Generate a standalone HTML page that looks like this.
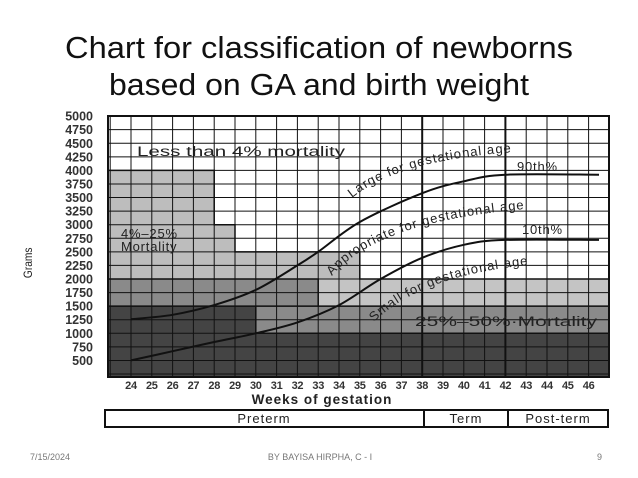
<!DOCTYPE html>
<html><head><meta charset="utf-8"><style>
body{margin:0;background:#fff;width:638px;height:478px;overflow:hidden;font-family:"Liberation Sans",sans-serif}
svg{display:block}
</style></head><body>
<svg id="c" width="638" height="478">
<defs>
<path id="lgaPath" d="M352 198 Q410 150 580 150"/>
<path id="agaPath" d="M332 276 Q385 212 580 206"/>
<path id="sgaPath" d="M374 322 Q432 265 580 262"/>
</defs>
<text x="319" y="58" text-anchor="middle" font-size="31" fill="#111" textLength="508" lengthAdjust="spacingAndGlyphs">Chart for classification of newborns</text>
<text x="319" y="95" text-anchor="middle" font-size="31" fill="#111" textLength="420" lengthAdjust="spacingAndGlyphs">based on GA and birth weight</text>
<g id="plot"></g>
<text x="30" y="460" font-size="9" fill="#777">7/15/2024</text>
<text x="320" y="460" text-anchor="middle" font-size="9" fill="#777">BY BAYISA HIRPHA, C - I</text>
<text x="597" y="460" font-size="9" fill="#777">9</text>
</svg>
<script>
const weeks=[24,25,26,27,28,29,30,31,32,33,34,35,36,37,38,39,40,41,42,43,44,45,46];
const gramTicks=[500,750,1000,1250,1500,1750,2000,2250,2500,2750,3000,3250,3500,3750,4000,4250,4500,4750,5000];
const p90Weeks=[24,26,28,30,32,33,35,38,40,42,46.5];
const p90Grams=[1260,1340,1520,1800,2250,2500,3050,3580,3800,3920,3920];
const p10Weeks=[24,26,28,30,32,34,36,38,40,42,46.5];
const p10Grams=[500,670,840,1000,1200,1520,2000,2390,2630,2720,2720];
const zoneW0=[22.9,28,29,35,33,22.9,30];
const zoneW1=[28,29,35,47,47,33,47];
const zoneG0=[2000,2000,2000,1500,1500,1500,1000];
const zoneG1=[4000,3000,2500,2000,2000,2000,1500];
const zoneFill=["#bdbdbd","#bdbdbd","#bdbdbd","#c4c4c4","#c4c4c4","#8a8a8a","#8a8a8a"];
const NS="http://www.w3.org/2000/svg";
const X=w=>131+(w-24)*20.8;
const Y=g=>279-(g-2000)*0.0543;
const L=108,R=609,T=116,B=377;
const g=document.getElementById('plot');
function mk(t,a,p){const e=document.createElementNS(NS,t);for(const k in a)e.setAttribute(k,a[k]);(p||g).appendChild(e);return e;}
let base=mk('rect',{x:L,y:Y(1500),width:R-L,height:B-Y(1500),fill:'#444'});


for(let i=0;i<zoneW0.length;i++){
  const x0=Math.max(L,X(zoneW0[i])),x1=Math.min(R,X(zoneW1[i]));
  const y0=Y(zoneG1[i]),y1=Math.min(B,Y(zoneG0[i]));
  const r=mk('rect',{x:x0,y:y0,width:x1-x0,height:y1-y0,fill:zoneFill[i]});
  
  
}
for(let w=23;w<=47;w++){const x=X(w);if(x<L||x>R)continue;
  const l=mk('line',{x1:x,x2:x,y1:T,y2:B,stroke:'#111','stroke-width':(w==38||w==42)?2:1});
  
  }
for(let gr=250;gr<=5000;gr+=250){const y=Y(gr);if(y>B)continue;
  const l=mk('line',{x1:L,x2:R,y1:y,y2:y,stroke:'#111','stroke-width':1});
  
  }
const bp=mk('path',{d:`M${L} ${Y(4000)}H${X(28)}V${Y(3000)}H${X(29)}V${Y(2500)}H${X(35)}V${Y(2000)}H${R}M${L} ${Y(2000)}H${X(33)}V${Y(1500)}M${L} ${Y(1500)}H${R}M${X(30)} ${Y(1500)}V${Y(1000)}H${R}`,fill:'none',stroke:'#111','stroke-width':1.5});


const fr=mk('rect',{x:L,y:T,width:R-L,height:B-T,fill:'none',stroke:'#111','stroke-width':2});


function curve(ws,gs,name){
  const pts=ws.map((w,i)=>[X(w),Y(gs[i])]);
  let d='M'+pts[0][0].toFixed(1)+' '+pts[0][1].toFixed(1);
  for(let i=0;i<pts.length-1;i++){
    const p0=pts[Math.max(0,i-1)],p1=pts[i],p2=pts[i+1],p3=pts[Math.min(pts.length-1,i+2)];
    const c1=[p1[0]+(p2[0]-p0[0])/6,p1[1]+(p2[1]-p0[1])/6],c2=[p2[0]-(p3[0]-p1[0])/6,p2[1]-(p3[1]-p1[1])/6];
    d+=`C${c1[0].toFixed(1)} ${c1[1].toFixed(1)} ${c2[0].toFixed(1)} ${c2[1].toFixed(1)} ${p2[0].toFixed(1)} ${p2[1].toFixed(1)}`;
  }
  const p=mk('path',{d:d,fill:'none',stroke:'#111','stroke-width':2});
  
  }
curve(p90Weeks,p90Grams,'curve-90th-percentile');
curve(p10Weeks,p10Grams,'curve-10th-percentile');
gramTicks.forEach(v=>{const t=mk('text',{x:93,y:Y(v)+4.5,'text-anchor':'end','font-size':12.5,'font-weight':'bold',fill:'#333'});t.textContent=v;
  
  });
weeks.forEach(v=>{const t=mk('text',{x:X(v),y:389,'text-anchor':'middle','font-size':11,'font-weight':'bold',fill:'#333','letter-spacing':'-0.3'});t.textContent=v;
  
  });
function txt(s,x,y,fs,name,extra){const t=mk('text',Object.assign({x:x,y:y,'font-size':fs,fill:'#222'},extra||{}));t.textContent=s;
  
  return t;}
txt('Grams',32,258,12,'y-axis-title',{transform:'rotate(-90 32 258) scale(0.85 1)','text-anchor':'middle'});
txt('Weeks of gestation',322,404,13.5,'x-axis-title',{'text-anchor':'middle','font-weight':'bold','letter-spacing':'1'});
txt('Less than 4% mortality',137,156,13.5,'zone-label-low',{'textLength':'208','lengthAdjust':'spacingAndGlyphs'});
txt('4%–25%',121,238,13,'zone-label-mid-1',{'letter-spacing':'0.8'});
txt('Mortality',121,251,13,'zone-label-mid-2',{'letter-spacing':'0.8'});
txt('25%–50%·Mortality',415,326,13.5,'zone-label-high',{'textLength':'182','lengthAdjust':'spacingAndGlyphs'});
txt('90th%',517,171,13,'label-90th',{'letter-spacing':'0.8'});
txt('10th%',522,234,13,'label-10th',{'letter-spacing':'0.8'});
function tp(s,id,name){const t=mk('text',{'font-size':13,fill:'#222','letter-spacing':'1'});
  const q=mk('textPath',{href:'#'+id},t);q.textContent=s;
  
  }
tp('Large for gestational age','lgaPath','label-lga');
tp('Appropriate for gestational age','agaPath','label-aga');
tp('Small for gestational age','sgaPath','label-sga');
const tb=mk('rect',{x:105,y:410,width:503,height:17,fill:'#fff',stroke:'#111','stroke-width':2});


[424,508].forEach(x=>{const l=mk('line',{x1:x,x2:x,y1:410,y2:427,stroke:'#111','stroke-width':2});
  
  });
txt('Preterm',264,423,13,'preterm-label',{'text-anchor':'middle','letter-spacing':'1'});
txt('Term',466,423,13,'term-label',{'text-anchor':'middle','letter-spacing':'1'});
txt('Post-term',558,423,13,'post-term-label',{'text-anchor':'middle','letter-spacing':'1'});
</script>
</body></html>
